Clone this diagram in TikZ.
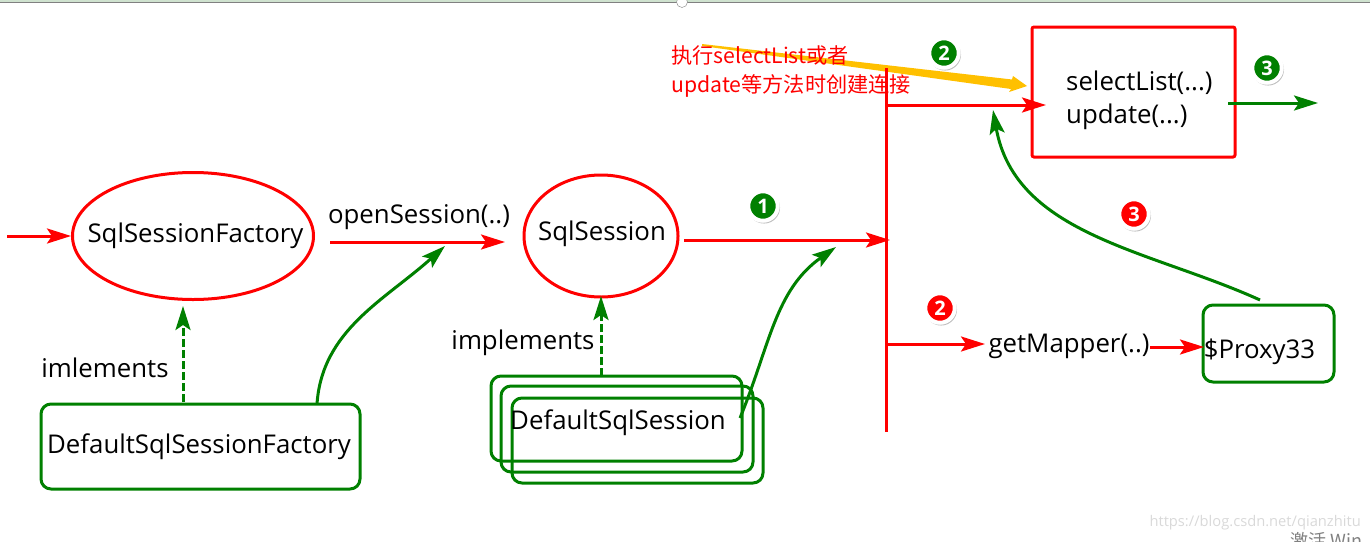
\documentclass[tikz,border=0pt]{standalone}
\usepackage{fontspec}
\setmainfont{Open Sans}
\newfontfamily\cjk{Noto Sans CJK SC}
\usepackage{xcolor}
\usetikzlibrary{arrows.meta,shapes.geometric,shadows,positioning,calc}
\definecolor{linegreen}{RGB}{0,128,0}
\definecolor{linered}{RGB}{255,0,0}
\definecolor{noteyellow}{RGB}{255,192,0}
\tikzset{
    redarrow/.style = {-{Stealth[length=24pt,width=15pt,inset=5pt]}, linered, line width=3pt},
    greenarrow/.style = {-{Stealth[length=24pt,width=15pt,inset=5pt]}, linegreen, line width=3pt},
    implarrow/.style = {greenarrow, dash pattern=on 8pt off 3pt},
    redellipse/.style = {ellipse, draw = linered, line width=3pt, inner sep=0pt},
    greenbox/.style = {rectangle, rounded corners=10pt, draw = linegreen, line width=3pt, inner sep=0pt},
    badge/.style = {circle, draw = white, line width=4pt, text = white, font = \fontsize{20}{20}\selectfont\bfseries,
        minimum size=29.5pt, inner sep=0pt, drop shadow={shadow xshift=1pt, shadow yshift=-1.5pt, shadow scale=1.08, opacity=.5}},
    textlabel/.style = {font = \fontsize{25.8}{26}\selectfont, text = black, inner sep=0pt}
}
\begin{document}
\begin{tikzpicture}[x = 1pt, y = -1pt]
    \useasboundingbox (0,0) rectangle (1370,541);
    \clip (0,0) rectangle (1370,541);
    % window edge
    \fill[green!25!gray!30] (0,0) rectangle (1370,2);
    \draw[gray, line width=.8pt] (0,2.5) -- (1370,2.5);
    \node[circle, draw = gray, fill = white, minimum size=11pt, inner sep=0pt] (handle) at (682,2) {};
    % note arrow
    \fill[noteyellow] (702,44) -- (1012,79.5) -- (1013,76) -- (1027,86) -- (1009,92) -- (1011,89) -- (702,46) -- cycle;
    % nodes
    \node[redellipse, minimum width=241pt, minimum height=127pt] (factory) at (193,236) {};
    \node[redellipse, minimum width=154pt, minimum height=122pt] (session) at (601,236) {};
    \node[greenbox, minimum width=319pt, minimum height=85pt] (factoryimpl) at (200.5,446.5) {};
    \node[greenbox, minimum width=251pt, minimum height=85pt] (sessionimpla) at (616.5,418.5) {};
    \node[greenbox, minimum width=252pt, minimum height=86pt] (sessionimplb) at (627,429) {};
    \node[greenbox, minimum width=251pt, minimum height=85pt] (sessionimplc) at (637.5,440.5) {};
    \node[rectangle, rounded corners=2pt, draw = linered, line width=3pt, minimum width=203pt, minimum height=130pt] (methods) at (1133.5,92) {};
    \node[greenbox, minimum width=131pt, minimum height=77pt] (proxy) at (1268.5,343.5) {};
    % texts
    \node[textlabel] (factorytext) at (195.5,236) {SqlSessionFactory};
    \node[textlabel] (sessiontext) at (602,234) {SqlSession};
    \node[textlabel] (factoryimpltext) at (199,447) {DefaultSqlSessionFactory};
    \node[textlabel] (sessionimpltext) at (618,423) {DefaultSqlSession};
    \node[textlabel, anchor = west, align = left, font = \fontsize{25.8}{33}\selectfont] (methodstext) at (1066,100) {selectList(...)\\update(...)};
    \node[textlabel] (proxytext) at (1259.5,352) {\$Proxy33};
    \node[textlabel] (open) at (419,217) {openSession(..)};
    \node[textlabel] (imlements) at (105,368) {imlements};
    \node[textlabel] (implements) at (523,343) {implements};
    \node[textlabel] (mapper) at (1069,346) {getMapper(..)};
    \node[font = \fontsize{21.2}{29}\selectfont\cjk, anchor = west, align = left, text = linered, inner sep=0pt] (note) at (671,72) {执行selectList或者\\update等方法时创建连接};
    % connector ends
    \coordinate (start) at (7,236);
    \coordinate (opena) at (330,242);
    \coordinate (openb) at (505,242);
    \coordinate (barfrom) at (684,240);
    \coordinate (barin) at (890,240);
    \coordinate (bartop) at (886,68);
    \coordinate (barbottom) at (886,432);
    \coordinate (barup) at (886,105);
    \coordinate (methodsin) at (1046,105);
    \coordinate (bardown) at (886,344);
    \coordinate (out) at (1318,103);
    \coordinate (outfrom) at (1228,103);
    \coordinate (mapperend) at (985,344);
    \coordinate (proxyfrom) at (1150,347);
    \coordinate (proxyin) at (1204,347);
    \coordinate (factorytip) at (445,246);
    \coordinate (sessiontip) at (836,247);
    \coordinate (methodstip) at (993,110);
    % red lines
    \draw[redarrow] (start) -- (factory.west);
    \draw[redarrow] (opena) -- (openb);
    \draw[redarrow] (barfrom) -- (barin);
    \draw[linered, line width=3pt] (bartop) -- (barbottom);
    \draw[redarrow] (barup) -- (methodsin);
    \draw[redarrow] (bardown) -- (mapperend);
    \draw[redarrow] (proxyfrom) -- (proxyin);
    % green lines
    \draw[implarrow] (183,402) -- (183,306);
    \draw[implarrow] (601,376) -- (601,296);
    \draw[greenarrow] (317,404) .. controls (322,330) and (385,300) .. (factorytip);
    \draw[greenarrow] (740,418) .. controls (770,345) and (775,290) .. (sessiontip);
    \draw[greenarrow] (1260,300) .. controls (1150,250) and (1015,235) .. (methodstip);
    \draw[greenarrow] (outfrom) -- (out);
    % numbered marks
    \node[badge, fill = linegreen] (one) at (763,206) {1};
    \node[badge, fill = linegreen] (two) at (944,53) {2};
    \node[badge, fill = linegreen] (three) at (1267,68) {3};
    \node[badge, fill = linered] (redthree) at (1134,214) {3};
    \node[badge, fill = linered] (redtwo) at (940,308) {2};
    % page marks
    \node[font = \fontsize{14.7}{16}\selectfont, text = black!15, anchor = east, inner sep=0pt] (mark) at (1361,523) {https://blog.csdn.net/qianzhitu};
    \node[font = \fontsize{18}{18}\selectfont\cjk, text = black!50, anchor = west, inner sep=0pt] (activate) at (1290,541) {激活 Win};
\end{tikzpicture}
\end{document}
